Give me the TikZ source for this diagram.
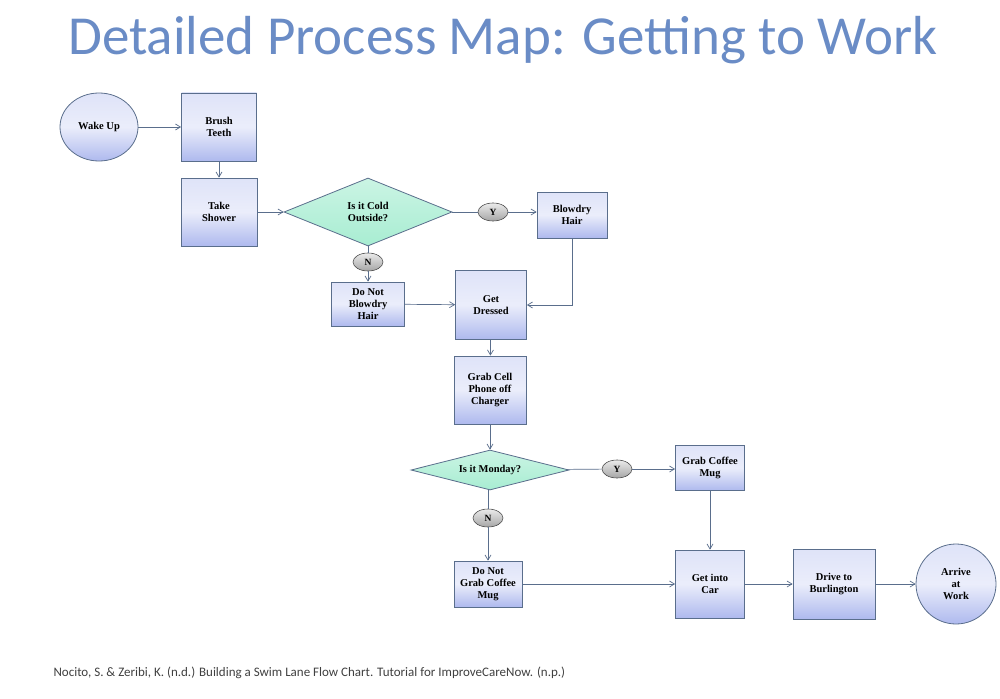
\documentclass[tikz,border=0pt]{standalone}
\usepackage{fontspec}
\setmainfont{Liberation Serif}
\newfontfamily\carl{Carlito}
\usetikzlibrary{shapes.geometric,arrows.meta}
\definecolor{edge}{HTML}{5A6E8C}
\definecolor{boxlo}{HTML}{AEB9EE}
\definecolor{titlec}{HTML}{6A8CC6}
\definecolor{mint}{HTML}{A8EDD2}
\begin{document}
\begin{tikzpicture}[x=1pt,y=-1pt,
  box/.style={draw=edge,line width=0.8pt,top color=white!60!boxlo,bottom color=boxlo,middle color=white!75!boxlo,minimum width=#1,align=center,font=\fontsize{10.5}{12}\selectfont\bfseries,inner sep=1pt},
  dia/.style={diamond,draw=edge,line width=0.8pt,top color=mint!60!white,bottom color=mint,aspect=2.4,align=center,font=\fontsize{10.5}{12}\selectfont\bfseries,inner sep=0pt},
  yn/.style={ellipse,draw=black!70,line width=0.6pt,top color=black!8,bottom color=black!35,minimum width=30,minimum height=18,inner sep=0pt,font=\fontsize{9.5}{10}\selectfont\bfseries},
  ar/.style={draw=edge,line width=0.7pt,-{Straight Barb[length=5pt,width=6pt]}},
  ln/.style={draw=edge,line width=0.7pt}]
\useasboundingbox (0,0) rectangle (1000,698);
\fill[white] (0,0) rectangle (1000,698);
\node[font=\carl\fontsize{55}{58}\selectfont,text=titlec] (title) at (503,40) {Detailed Process Map: Getting to Work};
\node[font=\carl\fontsize{13}{14}\selectfont,text=black!75,anchor=west] (foot) at (50,673) {Nocito, S. \& Zeribi, K. (n.d.) Building a Swim Lane Flow Chart. Tutorial for ImproveCareNow. (n.p.)};

\node[box=0,ellipse,minimum width=78,minimum height=68] (wake) at (99,127) {Wake Up};
\node[box=75,minimum height=68] (brush) at (219,127) {Brush\\Teeth};
\node[box=76,minimum height=68] (shower) at (219,212) {Take\\Shower};
\node[dia,minimum width=168,minimum height=68] (cold) at (368,212) {Is it Cold\\Outside?};
\node[yn] (y1) at (493,212) {Y};
\node[box=70,minimum height=46] (blow) at (572,215) {Blowdry\\Hair};
\node[yn] (n1) at (368,262) {N};
\node[box=73,minimum height=44] (noblow) at (368,304) {Do Not\\Blowdry\\Hair};
\node[box=71,minimum height=69] (dress) at (491,305) {Get\\Dressed};
\node[box=72,minimum height=68] (phone) at (490,390) {Grab Cell\\Phone off\\Charger};
\node[dia,minimum width=158,minimum height=40] (mon) at (490,470) {Is it Monday?};
\node[yn] (y2) at (617,469) {Y};
\node[box=69,minimum height=45] (mug) at (710,468) {Grab Coffee\\Mug};
\node[yn] (n2) at (488,518) {N};
\node[box=68,minimum height=46] (nomug) at (488,584) {Do Not\\Grab Coffee\\Mug};
\node[box=69,minimum height=68] (car) at (710,584) {Get into\\Car};
\node[box=82,minimum height=70] (drive) at (834,584) {Drive to\\Burlington};
\node[box=0,circle,minimum size=80] (arrive) at (956,584) {Arrive\\at\\Work};

\draw[ar] (wake) -- (brush);
\draw[ar] (brush) -- (shower);
\draw[ar] (shower) -- (cold);
\draw[ln] (cold) -- (y1);
\draw[ar] (y1) -- (blow.west|-y1);
\draw[ln] (cold) -- (n1);
\draw[ar] (n1) -- (noblow);
\draw[ar] (noblow) -- (dress);
\draw[ar] (blow.south) |- (dress.east);
\draw[ar] (dress) -- (phone);
\draw[ar] (phone) -- (mon);
\draw[ln] (mon.south-|n2) -- (n2);
\draw[ln] (mon) -- (y2);
\draw[ar] (y2) -- (mug.west|-y2);
\draw[ar] (n2) -- (nomug);
\draw[ar] (nomug) -- (car);
\draw[ar] (mug) -- (car);
\draw[ar] (car) -- (drive);
\draw[ar] (drive) -- (arrive);
\end{tikzpicture}
\end{document}
